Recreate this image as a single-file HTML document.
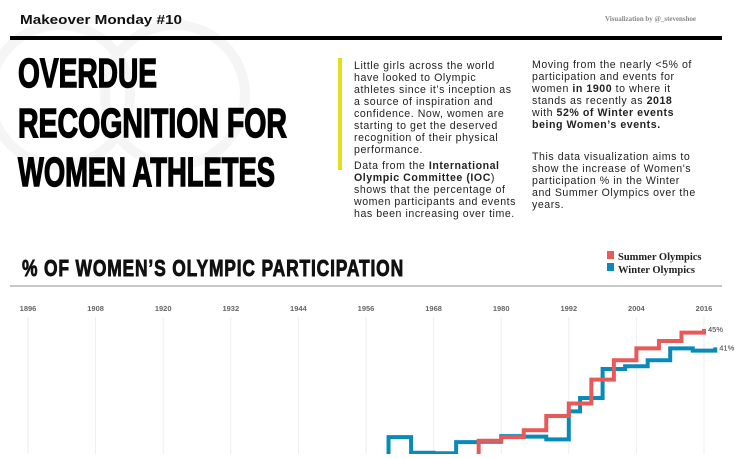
<!DOCTYPE html>
<html><head><meta charset="utf-8">
<style>
html,body{margin:0;padding:0;background:#fff;}
body{width:736px;height:454px;overflow:hidden;}
svg text{font-family:"Liberation Sans",sans-serif;}
</style></head>
<body>
<svg id="root" width="736" height="454" viewBox="0 0 736 454" xmlns="http://www.w3.org/2000/svg">
  <g fill="none" stroke="#f5f5f5" stroke-width="10">
    <circle cx="60" cy="95" r="70"/>
    <circle cx="175" cy="95" r="70"/>
  </g>
  <text x="20" y="24" font-size="13" font-weight="bold" fill="#111" textLength="162" lengthAdjust="spacingAndGlyphs">Makeover Monday #10</text>
  <text x="605" y="21" font-size="7" font-weight="bold" fill="#888" style="font-family:'Liberation Serif',serif" textLength="91" lengthAdjust="spacingAndGlyphs">Visualization by @_stevenshoe</text>
  <rect x="10" y="36" width="712" height="4" fill="#000"/>

  <g font-weight="bold" fill="#000" stroke="#000" stroke-width="1.3">
    <text x="18" y="87" font-size="37" textLength="139" lengthAdjust="spacingAndGlyphs" transform="translate(0,-8.7) scale(1,1.1)" style="font-family:'Liberation Sans Narrow','Liberation Sans',sans-serif">OVERDUE</text>
    <text x="18" y="137" font-size="37" textLength="269" lengthAdjust="spacingAndGlyphs" transform="translate(0,-13.7) scale(1,1.1)" style="font-family:'Liberation Sans Narrow','Liberation Sans',sans-serif">RECOGNITION FOR</text>
    <text x="18" y="186" font-size="37" textLength="257" lengthAdjust="spacingAndGlyphs" transform="translate(0,-18.6) scale(1,1.1)" style="font-family:'Liberation Sans Narrow','Liberation Sans',sans-serif">WOMEN ATHLETES</text>
  </g>

  <rect x="338" y="58" width="4" height="112" fill="#e3e01a"/>
  <g font-size="10.6" fill="#222" letter-spacing="0.55">
    <text x="354" y="69">Little girls across the world</text>
    <text x="354" y="81">have looked to Olympic</text>
    <text x="354" y="93">athletes since it’s inception as</text>
    <text x="354" y="105">a source of inspiration and</text>
    <text x="354" y="117">confidence. Now, women are</text>
    <text x="354" y="129">starting to get the deserved</text>
    <text x="354" y="141">recognition of their physical</text>
    <text x="354" y="153">performance.</text>
    <text x="354" y="169">Data from the <tspan font-weight="bold">International</tspan></text>
    <text x="354" y="181"><tspan font-weight="bold">Olympic Committee (IOC</tspan>)</text>
    <text x="354" y="193">shows that the percentage of</text>
    <text x="354" y="205">women participants and events</text>
    <text x="354" y="217">has been increasing over time.</text>
  </g>
  <g font-size="10.6" fill="#222" letter-spacing="0.55">
    <text x="532" y="68">Moving from the nearly &lt;5% of</text>
    <text x="532" y="80">participation and events for</text>
    <text x="532" y="92">women <tspan font-weight="bold">in 1900</tspan> to where it</text>
    <text x="532" y="104">stands as recently as <tspan font-weight="bold">2018</tspan></text>
    <text x="532" y="116">with <tspan font-weight="bold">52% of Winter events</tspan></text>
    <text x="532" y="128" font-weight="bold">being Women’s events.</text>
    <text x="532" y="160">This data visualization aims to</text>
    <text x="532" y="172">show the increase of Women's</text>
    <text x="532" y="184">participation % in the Winter</text>
    <text x="532" y="196">and Summer Olympics over the</text>
    <text x="532" y="208">years.</text>
  </g>

  <text x="22" y="276" font-size="21" font-weight="bold" fill="#111" stroke="#111" stroke-width="0.8" letter-spacing="1" textLength="382" lengthAdjust="spacingAndGlyphs" transform="translate(0,-27.6) scale(1,1.1)" style="font-family:'Liberation Sans Narrow','Liberation Sans',sans-serif">% OF WOMEN’S OLYMPIC PARTICIPATION</text>
  <g>
    <g>
      <rect x="607" y="251" width="7" height="8" fill="#e8595a"/>
      <text x="618" y="260" font-size="10.5" font-weight="bold" fill="#222" style="font-family:'Liberation Serif',serif">Summer Olympics</text>
    </g>
    <g>
      <rect x="607" y="263" width="7" height="8" fill="#0a8ab8"/>
      <text x="618" y="273" font-size="10.5" font-weight="bold" fill="#222" style="font-family:'Liberation Serif',serif">Winter Olympics</text>
    </g>
  </g>
  <rect x="10" y="285" width="712" height="2" fill="#c8c8c8"/>

  <g id="grid"></g>
  <g id="xaxis"></g>
  <g id="series"></g>
</svg>
<script>
const tickYears = [1896, 1908, 1920, 1932, 1944, 1956, 1968, 1980, 1992, 2004, 2016];
const summerYears = [1976, 1980, 1984, 1988, 1992, 1996, 2000, 2004, 2008, 2012, 2016];
const summerValues = [20.7, 21.5, 23.0, 26.1, 28.8, 34.0, 38.2, 40.8, 42.4, 44.2, 45.0];
const winterYears = [1960, 1964, 1968, 1972, 1976, 1980, 1984, 1988, 1992, 1994, 1998, 2002, 2006, 2010, 2014, 2018];
const winterValues = [21.5, 18.1, 18.0, 20.4, 20.5, 21.7, 21.6, 21.0, 27.1, 30.0, 36.3, 36.9, 38.2, 40.8, 40.3, 41.0];
const summerLabel = "45%";
const winterLabel = "41%";

const NS = "http://www.w3.org/2000/svg";
function xScale(year){ return 28 + (year - 1896) * (676 / 120); }
function yScale(pct){ return 329 + (45 - pct) * 4.6; }

const grid = document.getElementById('grid');
const xaxis = document.getElementById('xaxis');
tickYears.forEach(function(yr){
  const x = xScale(yr);
  const ln = document.createElementNS(NS, 'line');
  ln.setAttribute('x1', x); ln.setAttribute('x2', x);
  ln.setAttribute('y1', 317); ln.setAttribute('y2', 454);
  ln.setAttribute('stroke', '#eeeeee'); ln.setAttribute('stroke-width', '1');
  
  
  grid.appendChild(ln);
  const t = document.createElementNS(NS, 'text');
  t.setAttribute('x', x); t.setAttribute('y', 311);
  t.setAttribute('text-anchor', 'middle');
  t.setAttribute('font-size', '7.5'); t.setAttribute('font-weight', 'bold');
  t.setAttribute('fill', '#666');
  t.textContent = yr;
  
  
  xaxis.appendChild(t);
});

const series = document.getElementById('series');
function stepPath(years, vals){
  let d = 'M' + xScale(years[0]) + ',470 L' + xScale(years[0]) + ',' + yScale(vals[0]);
  for (let i = 1; i < years.length; i++){
    const x = xScale(years[i]);
    d += ' L' + x + ',' + yScale(vals[i-1]) + ' L' + x + ',' + yScale(vals[i]);
  }
  return d;
}
function drawSeries(years, vals, color, name, label){
  const p = document.createElementNS(NS, 'path');
  p.setAttribute('d', stepPath(years, vals));
  p.setAttribute('fill', 'none'); p.setAttribute('stroke', color);
  p.setAttribute('stroke-width', '4'); p.setAttribute('stroke-linejoin', 'miter');
  
  
  series.appendChild(p);
  const last = years.length - 1;
  const t = document.createElementNS(NS, 'text');
  t.setAttribute('x', xScale(years[last]) + 4);
  t.setAttribute('y', yScale(vals[last]) + 3);
  t.setAttribute('font-size', '7.5'); t.setAttribute('fill', '#333');
  t.textContent = label;
  
  
  series.appendChild(t);
}
drawSeries(winterYears, winterValues, '#0a8ab8', 'winter-line', winterLabel);
drawSeries(summerYears, summerValues, '#e8595a', 'summer-line', summerLabel);
</script>
</body></html>
